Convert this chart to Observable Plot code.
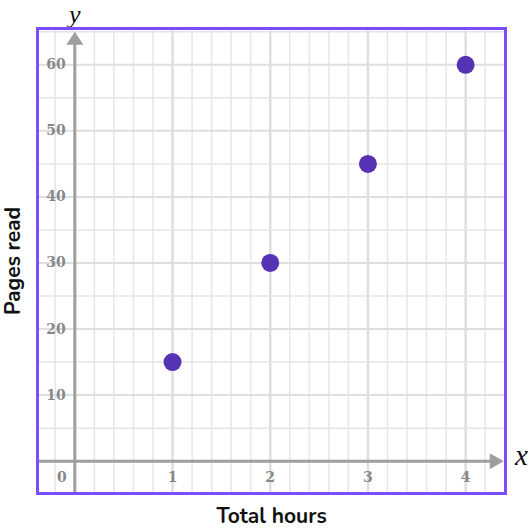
<!DOCTYPE html>
<html>
<head>
<meta charset="utf-8">
<script src="https://cdn.jsdelivr.net/npm/d3@7"></script>
<script src="https://cdn.jsdelivr.net/npm/@observablehq/plot@0.6"></script>
<style>
  html, body { margin: 0; padding: 0; background: #fff; }
</style>
</head>
<body>
<div id="chart"></div>
<script>
// Data
const hours = [1, 2, 3, 4];
const pages = [15, 30, 45, 60];
const xTickLabels = [1, 2, 3, 4];
const yTickLabels = [10, 20, 30, 40, 50, 60];
const xMinorGrid = d3.range(-1, 23).map(i => +(i * 0.2).toFixed(1)).filter(v => !Number.isInteger(v));
const xMajorGrid = [1, 2, 3, 4];
const yMinorGrid = [5, 15, 25, 35, 45, 55, 65];
const yMajorGrid = [10, 20, 30, 40, 50, 60];

const points = hours.map((h, i) => ({h, p: pages[i]}));

const xDomain = [-0.382, 4.408];
const yDomain = [-4.89, 65.49];

const upTriangle = {draw(ctx) { ctx.moveTo(0, 0); ctx.lineTo(8.5, 13); ctx.lineTo(-8.5, 13); ctx.closePath(); }};
const rightTriangle = {draw(ctx) { ctx.moveTo(0, 0); ctx.lineTo(-14, 8); ctx.lineTo(-14, -8); ctx.closePath(); }};

const axisColor = "#9e9e9e";
const labelColor = "#888888";
const tickFont = "DejaVu Serif, serif";
const mathFont = "Liberation Serif, Times New Roman, serif";
const titleFont = "Nunito, Lato, sans-serif";

const chart = Plot.plot({
  width: 532,
  height: 530,
  marginTop: 28,
  marginBottom: 37,
  marginLeft: 37,
  marginRight: 27,
  x: {domain: xDomain, axis: null},
  y: {domain: yDomain, axis: null},
  marks: [
    Plot.ruleX(xMinorGrid, {stroke: "#e6e6e6", strokeWidth: 1.5}),
    Plot.ruleX(xMajorGrid, {stroke: "#dedede", strokeWidth: 2.5}),
    Plot.ruleY(yMinorGrid, {stroke: "#e4e4e4", strokeWidth: 1.5}),
    Plot.ruleY(yMajorGrid, {stroke: "#dedede", strokeWidth: 2}),
    Plot.ruleY([0], {x1: xDomain[0], x2: 4.3, stroke: axisColor, strokeWidth: 3}),
    Plot.ruleX([0], {y1: yDomain[0], y2: 64, stroke: axisColor, strokeWidth: 3}),
    Plot.dot([{x: 0, y: 65}], {x: "x", y: "y", symbol: upTriangle, fill: axisColor, stroke: "none"}),
    Plot.dot([{x: 4.39, y: 0}], {x: "x", y: "y", symbol: rightTriangle, fill: axisColor, stroke: "none"}),
    Plot.text(yTickLabels, {x: 0, y: d => d, text: d => String(d), dx: -9, textAnchor: "end",
      fontFamily: tickFont, fontWeight: "bold", fontSize: 14, fill: labelColor}),
    Plot.text(xTickLabels, {x: d => d, y: 0, text: d => String(d), dy: 16,
      fontFamily: tickFont, fontWeight: "bold", fontSize: 14, fill: labelColor}),
    Plot.text([0], {x: 0, y: 0, text: d => String(d), dx: -13, dy: 16,
      fontFamily: tickFont, fontWeight: "bold", fontSize: 14, fill: labelColor}),
    Plot.text(["y"], {x: 0, y: yDomain[1], text: d => d, dy: -14,
      fontFamily: mathFont, fontStyle: "italic", fontSize: 26, fill: "#111"}),
    Plot.text(["x"], {x: xDomain[1], y: 0, text: d => d, dx: 16, dy: -5,
      fontFamily: mathFont, fontStyle: "italic", fontSize: 29, fill: "#111"}),
    Plot.text(["Pages read"], {frameAnchor: "left", text: d => d, rotate: -90, dx: -24,
      textAnchor: "middle", lineAnchor: "middle",
      fontFamily: titleFont, fontWeight: "bold", fontSize: 21, fill: "#111"}),
    Plot.text(["Total hours"], {frameAnchor: "bottom", text: d => d, dy: 23,
      textAnchor: "middle", lineAnchor: "middle",
      fontFamily: titleFont, fontWeight: "bold", fontSize: 21, fill: "#111"}),
    Plot.frame({stroke: "#7c4dff", strokeWidth: 3}),
    Plot.dot(points, {x: "h", y: "p", r: 9, fill: "#5533b3", stroke: "none"})
  ]
});
document.getElementById("chart").appendChild(chart);
</script>
</body>
</html>
